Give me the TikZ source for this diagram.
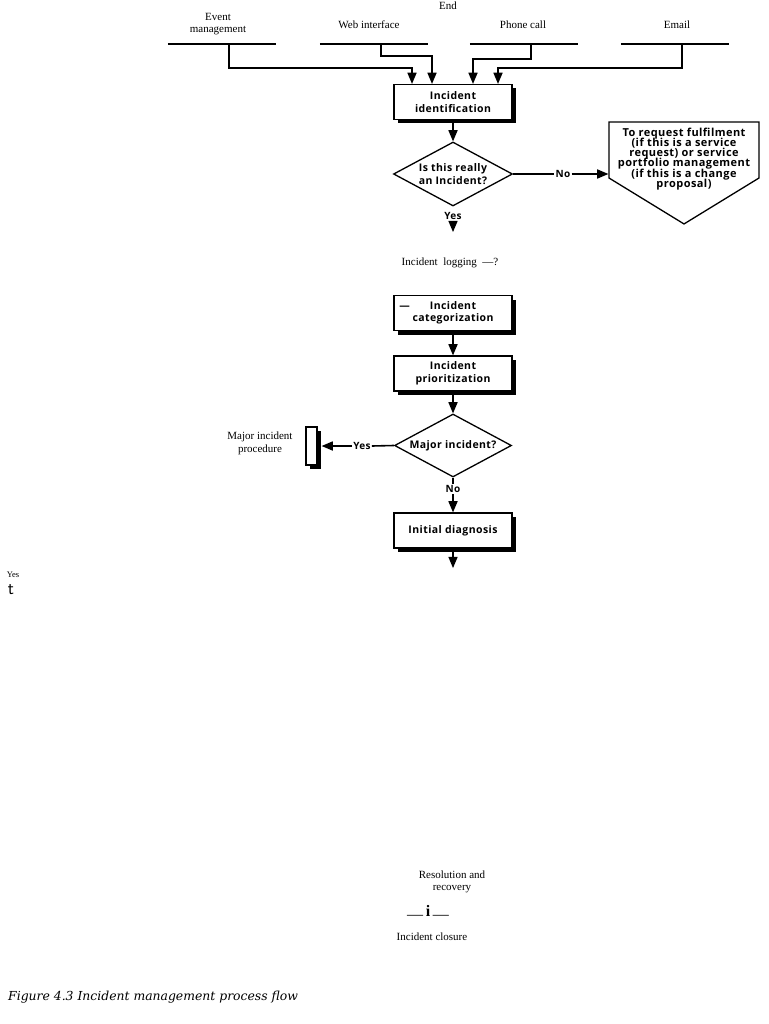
\documentclass[tikz,border=0pt]{standalone}
\usepackage{fontspec}
\setmainfont{Liberation Serif}
\newfontfamily\boxfont[LetterSpace=4]{Open Sans}
\newfontfamily\capfont{DejaVu Serif}
\newcommand\tightlines{\lineskiplimit=-20pt\relax}
\usetikzlibrary{arrows}
\usetikzlibrary{shapes.geometric,shapes.symbols,shadows}

\begin{document}
\begin{tikzpicture}[x=1pt,y=-1pt,
		procbox/.style={draw,fill=white,line width=1.3pt,minimum width=118pt,minimum height=35pt,inner sep=0pt,align=center,
			font=\boxfont\bfseries\fontsize{10.5}{12.5}\selectfont,
			drop shadow={shadow xshift=4pt,shadow yshift=-4pt,fill=black,opacity=1}},
		ask/.style={diamond,aspect=1.86,draw,fill=white,line width=1.3pt,inner sep=0pt,align=center,
			font=\boxfont\bfseries\fontsize{10.5}{12.5}\selectfont},
		lab/.style={inner sep=1pt,font=\boxfont\bfseries\fontsize{10}{12}\selectfont},
		word/.style={inner sep=0pt,align=center,font=\fontsize{11}{12.5}\selectfont},
		srcbar/.style={minimum width=108pt,minimum height=0pt,inner sep=0pt},
		bar/.style={line width=1.3pt},
		link/.style={line width=1.6pt},
		flow/.style={line width=1.6pt,-triangle 45}]
	\useasboundingbox (0,0) rectangle (768,1024);
	% sources
	\node[word] (endlab) at (448,6) {End};
	\node[word] (evlab) at (218,24) {Event\\management};
	\node[word] (weblab) at (369,25) {Web interface};
	\node[word] (phonelab) at (523,25) {Phone call};
	\node[word] (maillab) at (677,25) {Email};
	\foreach \nm/\xx in {ev/222,web/374,phone/524,mail/675} {
		\node[srcbar] (\nm-bar) at (\xx,44) {};
		\draw[bar] (\nm-bar.west) -- (\nm-bar.east);
	}
	\node[procbox] (ident) at (453,102) {Incident\\identification};
	\draw[flow] ([xshift=7pt]ev-bar.center) -- ++(0,24) -| ([xshift=-41pt]ident.north);
	\draw[flow] ([xshift=7pt]web-bar.center) -- ++(0,12) -| ([xshift=-21pt]ident.north);
	\draw[flow] ([xshift=7pt]phone-bar.center) -- ++(0,15) -| ([xshift=20pt]ident.north);
	\draw[flow] ([xshift=7pt]mail-bar.center) -- ++(0,24) -| ([xshift=45pt]ident.north);
	% is it an incident
	\node[ask,minimum width=119pt,minimum height=64pt] (isinc) at (453,174) {Is this really\\an Incident?};
	\draw[flow] (ident) -- (isinc);
	\node[signal,signal to=south,signal pointer angle=117,draw,line width=1.3pt,minimum width=150pt,minimum height=56pt,inner sep=0pt] (fulfil) at (684,150) {};
	\node[lab,align=center,font=\boxfont\bfseries\fontsize{11}{10.2}\selectfont\tightlines] (fulfiltxt) at (684,159) {To request fulfilment\\(if this is a service\\request) or service\\portfolio management\\(if this is a change\\proposal)};
	\node[lab] (no1) at (563,174) {No};
	\draw[link] (isinc.east) -- (no1.west);
	\draw[flow] (no1.east) -- (no1.east -| fulfil.west);
	\node[lab] (yes1) at (453,216) {Yes};
	\coordinate (logtop) at (453,232);
	\draw[flow] (yes1.south) -- (logtop);
	\node[word] (logging) at (450,263) {Incident\enspace logging\enspace —?};
	% categorize and prioritize
	\node[procbox] (categ) at (453,313) {\llap{—\hspace{20pt}}Incident\\categorization};
	\node[procbox] (prio) at (453,373.5) {Incident\\prioritization};
	\draw[flow] (categ) -- (prio);
	\node[ask,minimum width=117pt,minimum height=63pt] (major) at (453,445.5) {Major incident?};
	\draw[flow] (prio) -- (major);
	\node[lab] (yes2) at (362,446) {Yes};
	\node[procbox,minimum width=11pt,minimum height=38pt] (proc) at (311.5,446) {};
	\node[word] (proclab) at (260,443.5) {Major incident\\procedure};
	\draw[link] (major.west) -- (yes2.east);
	\draw[flow] (yes2.west) -- ([xshift=4pt]proc.east);
	\node[lab] (no2) at (453,489) {No};
	\draw[link] (major.south) -- (no2.north);
	\node[procbox] (diag) at (453,530.5) {Initial diagnosis};
	\draw[flow] (no2.south) -- (diag.north);
	\coordinate (diagout) at (453,568);
	\draw[flow] (diag) -- (diagout);
	% loose texts
	\node[inner sep=0pt,font=\fontsize{8.5}{9}\selectfont] (yesleft) at (13,575) {Yes};
	\node[inner sep=0pt,font=\sffamily\fontsize{18}{18}\selectfont] (tleft) at (11,590) {t};
	\node[word] (resol) at (452,882) {Resolution and\\recovery};
	\node[word,font=\fontsize{16}{18}\selectfont] (closebar) at (428,912) {\raisebox{-3pt}{—}\,\textbf{i}\,\raisebox{-3pt}{—}};
	\node[word] (closure) at (432,937) {Incident closure};
	\node[anchor=west,inner sep=0pt,font=\capfont\itshape\fontsize{12.4}{14}\selectfont] (caption) at (8,997) {Figure 4.3 Incident management process flow};
\end{tikzpicture}
\end{document}
